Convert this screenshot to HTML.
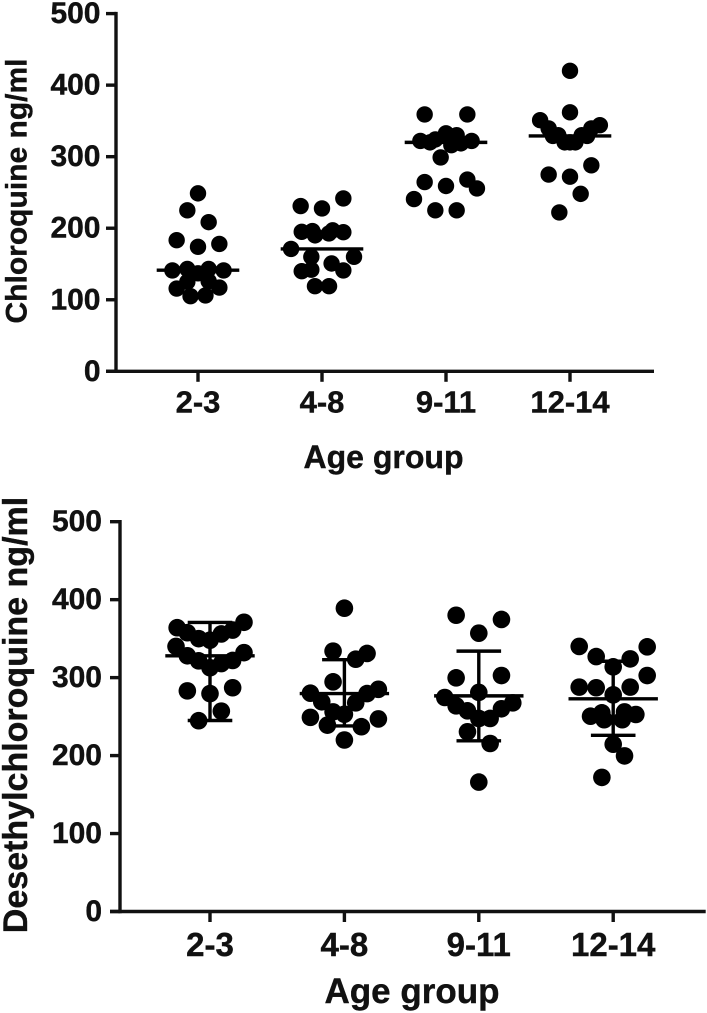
<!DOCTYPE html>
<html>
<head>
<meta charset="utf-8">
<style>
html,body{margin:0;padding:0;background:#fff;}
svg{display:block;}
text{font-family:"Liberation Sans",Arial,sans-serif;font-weight:bold;fill:#111;stroke:#111;stroke-width:0.4px;}
</style>
</head>
<body>
<svg id="figure" width="707" height="1013" viewBox="0 0 707 1013" xmlns="http://www.w3.org/2000/svg"></svg>
<script>
const categories = ['2-3', '4-8', '9-11', '12-14'];
const yTicks = [0, 100, 200, 300, 400, 500];

const chloroValues = [
  [248.7,225,208.5,183.3,174,178,141,143,143,141,137,125,126,115.7,117,105,106],
  [231,227.6,241.6,195,196,190,192.7,197,194.5,171,160,160,150.7,140,142,141,119,119],
  [359,359,322,320,324,332.6,330,316,318.6,322,299,264.5,259,268,255.6,240.7,225,225],
  [420,362,351,344,339.5,339.5,330,330,329,329,320,320,320,288,275,272,248,222]
];
const chloroSwarm = [
  [0,-1,1,-2,0,2,-2.4,-1,1,2.4,0,-1,1,-2,2,-0.7,0.7],
  [-2,0,2,-1.9,-0.9,-0.65,0.65,1,2,-2.9,-1,3,0.9,-1.9,-1,2,-0.66,0.66],
  [-2,2,-2.4,-1.5,-1,0,1,0.5,1.4,2.4,-0.5,-2,0,2,2.9,-3,-1,1],
  [0,0,-2.8,2.8,-2,2,-1.1,1.1,-1.6,1.6,-0.5,0.5,0,2,-2,0,1,-1]
];
const chloroMeans = [141.3, 171, 320, 329];

const desethylValues = [
  [364,371,357.6,350,348,356,361,340,328,321.5,312.6,318,322,332,283,279.5,287,257,244.7],
  [389,334,331,323.6,294.6,280,285,279.5,269,267.6,256,253,249,247,239,237,220],
  [380,374.6,357,299.7,302.7,281,274.5,267.6,263.8,260,257.4,247.6,247.6,230.5,215.5,166],
  [340,339.5,327,324,313.8,302.7,287.8,287,287.8,277.9,250.5,254.8,256,252.7,246,246,214.6,199.6,172]
];
const desethylSwarm = [
  [-2.9,3,-2,-1,0,1,2,-3,-2,-1,0,1,2,3,-2,0,2,1,-1],
  [0,-1,2,1,-1,-3,3,2,-2,1,-1,0,-3,3,-1.5,1.5,0],
  [-2,2,0,-2,2,0,-3,3,-2,2,-1,0,1,-1,1,0],
  [-3,3,-1.5,1.5,0,3,-3,-1.5,1.5,0,-2,-1,1,2,-0.8,0.8,0,1,-1]
];
const desethylMeans = [328, 279.6, 276.6, 272.8];
const desethylUpper = [370.8, 323, 334, 321];
const desethylLower = [245, 238, 219, 226];

const svg = document.getElementById('figure');
const NS = 'http://www.w3.org/2000/svg';

function mk(tag, attrs, text) {
  const el = document.createElementNS(NS, tag);
  for (const k in attrs) el.setAttribute(k, attrs[k]);
  if (text !== undefined) el.textContent = text;
  svg.appendChild(el);
  return el;
}

function drawChart(c) {
  const yPos = v => c.y0 + (c.y500 - c.y0) * v / 500;
  const xPos = i => c.x0 + c.step * i;
  const sw = 3.4;

  const yAxis = mk('line', {x1: c.axisX, x2: c.axisX, y1: c.y500 - 1.7, y2: c.y0 + 1.7, stroke: '#111', 'stroke-width': sw});
  
  
  const xAxis = mk('line', {x1: c.axisX - 10, x2: c.axisEnd, y1: c.y0, y2: c.y0, stroke: '#111', 'stroke-width': sw});
  
  

  yTicks.forEach(t => {
    const tick = mk('line', {x1: c.axisX - 10, x2: c.axisX, y1: yPos(t), y2: yPos(t), stroke: '#111', 'stroke-width': sw});
    
    
    const label = mk('text', {x: c.yLabelX, y: yPos(t) + 9.5, 'text-anchor': 'end', 'font-size': c.yFont}, String(t));
    
    
  });

  categories.forEach((name, i) => {
    const tick = mk('line', {x1: xPos(i), x2: xPos(i), y1: c.y0, y2: c.y0 + 10.5, stroke: '#111', 'stroke-width': sw});
    
    
    const label = mk('text', {x: xPos(i), y: c.xLabelY, 'text-anchor': 'middle', 'font-size': c.xFont}, name);
    
    
  });

  const xTitle = mk('text', {x: c.xTitleX, y: c.xTitleY, 'text-anchor': 'middle', 'font-size': c.xTitleFont}, 'Age group');
  
  

  const yTitle = mk('text', {x: 0, y: 0, 'text-anchor': 'middle', 'font-size': c.yTitleFont, transform: 'translate(' + c.yTitleX + ',' + c.yTitleY + ') rotate(-90)'}, c.yTitle);
  
  

  c.values.forEach((group, i) => {
    group.forEach((v, j) => {
      const dot = mk('circle', {cx: xPos(i) + c.swarm[i][j] * c.slot, cy: yPos(v), r: c.r, fill: '#000'});
      
      
    });
    const mean = mk('line', {x1: xPos(i) - c.meanHalf, x2: xPos(i) + c.meanHalf, y1: yPos(c.means[i]), y2: yPos(c.means[i]), stroke: '#000', 'stroke-width': sw});
    
    
    if (c.upper) {
      const stem = mk('line', {x1: xPos(i), x2: xPos(i), y1: yPos(c.upper[i]), y2: yPos(c.lower[i]), stroke: '#000', 'stroke-width': sw});
      
      
      const capTop = mk('line', {x1: xPos(i) - c.capHalf, x2: xPos(i) + c.capHalf, y1: yPos(c.upper[i]), y2: yPos(c.upper[i]), stroke: '#000', 'stroke-width': sw});
      
      
      const capBottom = mk('line', {x1: xPos(i) - c.capHalf, x2: xPos(i) + c.capHalf, y1: yPos(c.lower[i]), y2: yPos(c.lower[i]), stroke: '#000', 'stroke-width': sw});
      
      
    }
  });
}

drawChart({
  id: 'chloroquine-chart', values: chloroValues, swarm: chloroSwarm, means: chloroMeans,
  y0: 371.3, y500: 13.6, axisX: 116, axisEnd: 654, x0: 198, step: 124, slot: 10.67, r: 8.2,
  meanHalf: 41.3, yLabelX: 100.5, yFont: 30, xLabelY: 412.5, xFont: 31,
  xTitleX: 383.5, xTitleY: 468, xTitleFont: 32,
  yTitle: 'Chloroquine ng/ml', yTitleX: 26.5, yTitleY: 191, yTitleFont: 30
});

drawChart({
  id: 'desethylchloroquine-chart', values: desethylValues, swarm: desethylSwarm, means: desethylMeans,
  upper: desethylUpper, lower: desethylLower,
  y0: 911.5, y500: 521.7, axisX: 120, axisEnd: 705.7, x0: 210, step: 134.4, slot: 11.33, r: 8.8,
  meanHalf: 44.7, capHalf: 22.3, yLabelX: 102, yFont: 30, xLabelY: 956, xFont: 33,
  xTitleX: 412, xTitleY: 1003, xTitleFont: 35,
  yTitle: 'Desethylchloroquine ng/ml', yTitleX: 27, yTitleY: 715, yTitleFont: 34
});
</script>
</body>
</html>
